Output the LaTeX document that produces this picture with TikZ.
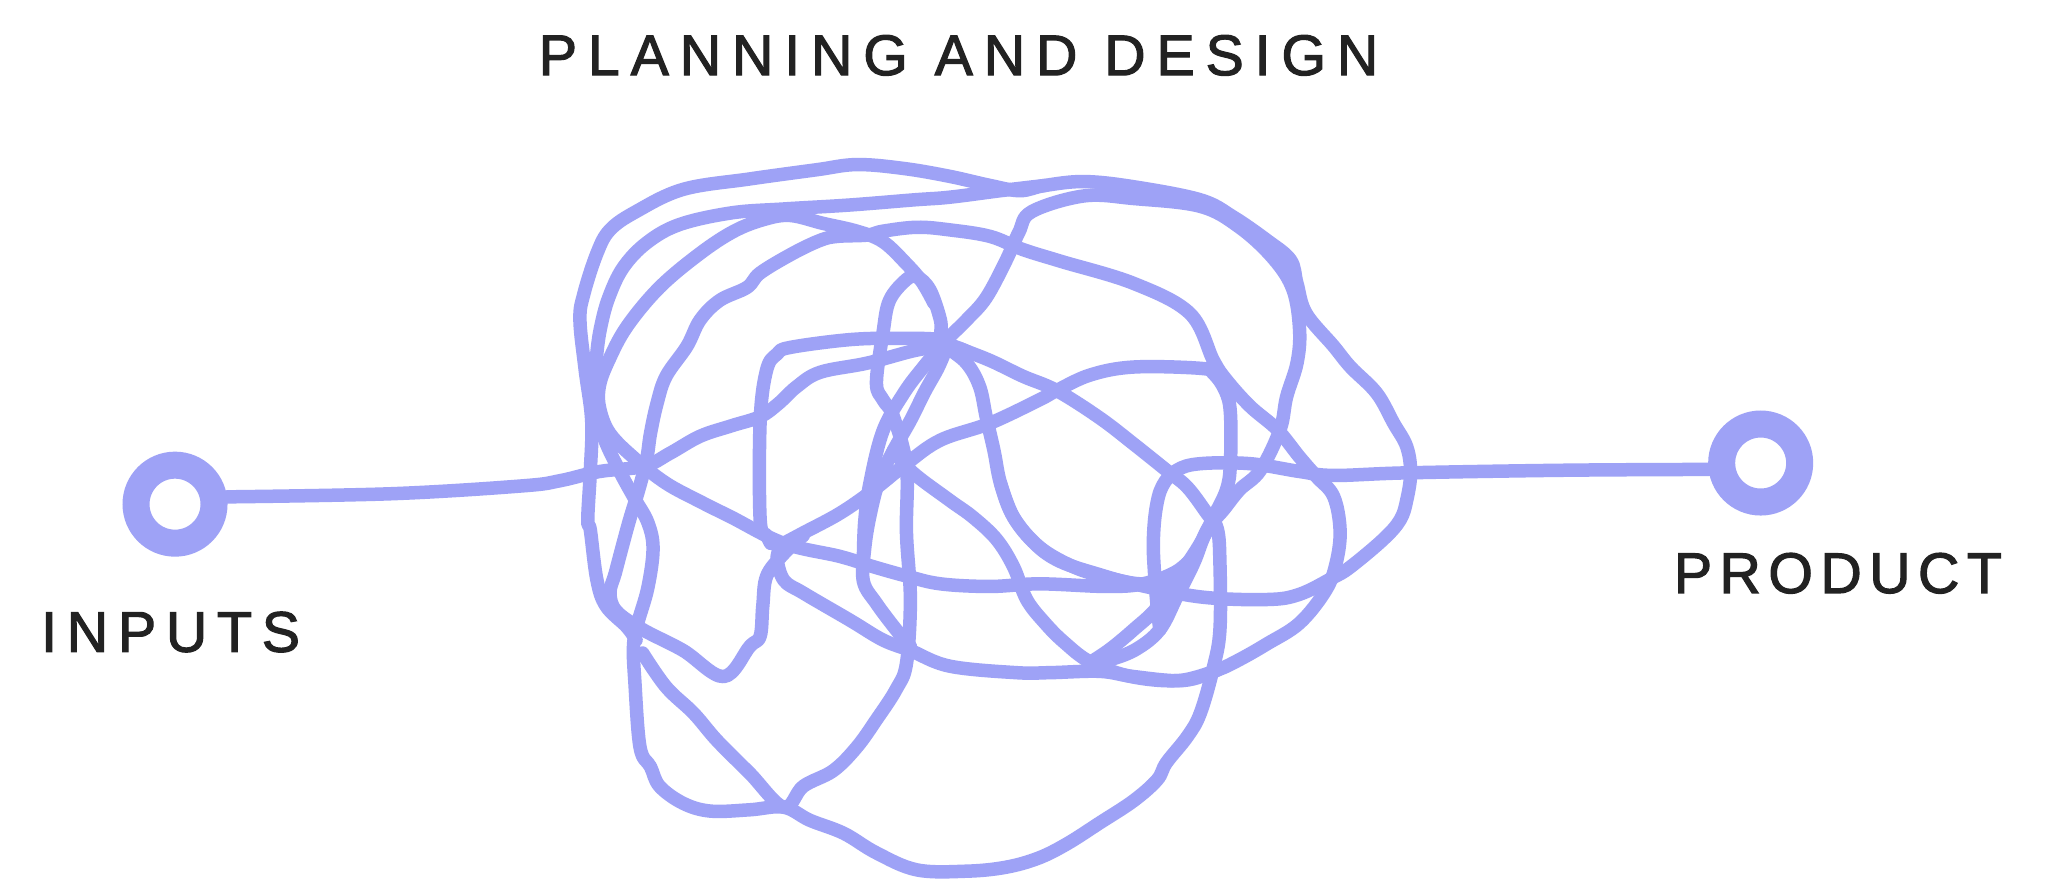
\documentclass[tikz,border=0pt]{standalone}
\usepackage{fontspec}
\setmainfont{Liberation Sans}
\newfontfamily\lblA[LetterSpace=19,FakeBold=2]{Liberation Sans}
\newfontfamily\lblB[LetterSpace=17,FakeBold=2]{Liberation Sans}
\newfontfamily\lblC[LetterSpace=13,FakeBold=2]{Liberation Sans}
\definecolor{scrib}{RGB}{158,162,246}
\definecolor{ink}{RGB}{34,34,34}
\begin{document}
\begin{tikzpicture}[x=0.1306mm,y=-0.1306mm,
  strand/.style={draw=scrib,line width=1.35mm,line cap=round,line join=round},
  ring/.style={circle,draw=scrib,line width=2.7mm,minimum size=7.8mm,inner sep=0pt},
  lbl/.style={text=ink,inner sep=0pt,anchor=base west}]
\fill[white] (0,0) rectangle (1568,680);
\useasboundingbox (0,0) rectangle (1568,680);

\node[lbl,font=\lblA\fontsize{16.3pt}{20pt}\selectfont] (plan) at (412,57.5) {PLANNING AND DESIGN};
\node[lbl,font=\lblB\fontsize{16.3pt}{20pt}\selectfont] (inp) at (31,499) {INPUTS};
\node[lbl,font=\lblC\fontsize{16.3pt}{20pt}\selectfont] (prod) at (1281,454) {PRODUCT};

\node[ring] (in) at (134,386) {};
\node[ring] (out) at (1348,354.5) {};

% input connector into the tangle
\draw[strand] plot[smooth,tension=0.6] coordinates {(in.8) (300,378) (400,372) (429,368) (459,361) (493,357) (513,347) (536,334) (560,326) (582,319) (596,309) (610,296) (628,285) (664,278) (702,268) (727,265) (742,270)};
% output connector from the tangle
\draw[strand] plot[smooth,tension=0.6] coordinates {(888,482) (886,465) (884,440) (883,415) (885,390) (890,372) (901,360) (919,355) (957,355) (995,361) (1021,364) (1078,362) (1200,360) (out.187)};

% tangle strands
\draw[strand] plot[smooth,tension=0.6] coordinates {(487,490) (480,480) (464,464) (457,444) (452,406) (450,398) (452,360) (453,322) (448,283) (444,245) (447,225) (457,194) (467,176) (487,162) (523,145) (574,137) (625,130) (656,126) (692,129) (727,135) (758,142) (781,146) (800,142) (830,139) (868,143) (919,153) (944,166) (970,184) (988,199) (993,217) (1000,240) (1021,265) (1034,281) (1054,301) (1067,324) (1077,342) (1080,362) (1077,383) (1072,398) (1059,413) (1034,434) (1021,442) (995,455) (970,459) (919,457) (868,447) (842,440) (812,430) (793,417) (776,396) (766,370)};

\draw[strand] plot[smooth,tension=0.6] coordinates {(800,142) (766,146) (727,151) (700,153) (650,157) (600,160) (560,163) (520,172) (495,186) (477,205) (466,228) (460,250) (457,270) (456,290) (457,309) (462,334) (474,360) (486,382) (496,400) (500,420) (496,450) (488,478) (485,495) (486,521) (490,572) (498,587) (505,602) (523,615) (544,621) (574,620) (600,618) (620,628) (646,638) (671,653) (702,666) (740,667) (770,664) (795,657) (817,646) (842,630) (868,613) (886,597) (893,584) (909,564) (919,546) (929,511) (934,482) (934,431) (932,405) (924,393) (909,373) (893,360) (868,340) (842,320) (809,299) (783,288) (758,276) (730,265) (720,260) (689,259) (651,260) (605,266) (595,271) (587,283) (582,322) (582,398) (587,410) (590,416)};

\draw[strand] plot[smooth,tension=0.6] coordinates {(715,232) (706,216) (694,202) (676,185) (656,177) (630,171) (605,165) (585,168) (562,177) (536,194) (505,220) (480,250) (466,276) (459,295) (459,312) (467,332) (487,352) (510,370) (536,384) (560,396) (600,416) (643,426) (669,434) (694,441) (720,447) (758,449) (796,447) (847,449) (875,447) (900,438) (915,425)};

\draw[strand] plot[smooth,tension=0.6] coordinates {(661,430) (662,400) (666,370) (676,330) (692,301) (707,281) (724,261) (740,245) (755,228) (770,200) (780,178) (790,162) (830,150) (868,152) (919,158) (949,174) (975,198) (990,222) (995,253) (993,278) (985,304) (980,329) (965,360) (949,375) (937,390) (924,406) (914,431) (901,457) (888,482) (870,497) (850,505) (835,507)};

\draw[strand] plot[smooth,tension=0.6] coordinates {(615,410) (600,424) (587,441) (584,464) (582,487) (574,495) (554,518) (523,498) (492,482) (472,468) (467,454) (471,439) (476,420) (482,398) (489,375) (495,352) (498,332) (503,309) (510,288) (526,265) (536,245) (551,230) (572,220) (582,209) (607,194) (628,184) (641,181) (664,180) (676,177) (702,174) (727,176) (758,181) (783,191) (812,200) (868,217) (911,240) (929,276) (939,291) (957,311) (978,329) (995,350) (1008,365) (1021,380) (1026,406) (1023,431) (1015,452) (995,477) (970,493) (949,505) (932,513) (906,521) (868,518) (842,514) (804,515) (778,515) (727,510) (697,498) (676,490) (651,475) (615,454) (600,444) (595,426) (600,416)};

\draw[strand] plot[smooth,tension=0.6] coordinates {(492,500) (510,526) (531,546) (549,567) (574,592) (600,618) (615,602) (638,590) (656,572) (671,551) (686,528) (694,508) (697,459) (694,408) (694,357) (684,319) (676,306) (671,293) (676,255) (681,230) (694,214) (702,212) (712,222) (720,245) (722,262) (740,278) (750,296) (755,319) (761,345) (766,370) (776,396) (796,419) (822,434) (847,442) (873,447) (893,444) (906,436)};

\draw[strand] plot[smooth,tension=0.6] coordinates {(697,495) (686,482) (671,462) (661,445) (662,420) (666,395) (673,368) (684,345) (697,322) (708,300) (718,282) (724,268)};

\draw[strand] plot[smooth,tension=0.6] coordinates {(600,416) (615,408) (643,393) (669,375) (694,355) (720,337) (758,324) (796,306) (809,299) (835,287) (868,281) (919,282) (929,286) (938,299) (942,316) (942,355) (939,375) (929,396) (919,416) (906,436) (886,465) (868,482) (850,497) (835,507)};

\draw[strand] plot[smooth,tension=0.6] coordinates {(684,345) (699,362) (727,383) (745,396) (763,413) (776,434) (786,459) (800,477) (815,492) (835,507) (866,518) (903,521) (932,513)};
\end{tikzpicture}
\end{document}
